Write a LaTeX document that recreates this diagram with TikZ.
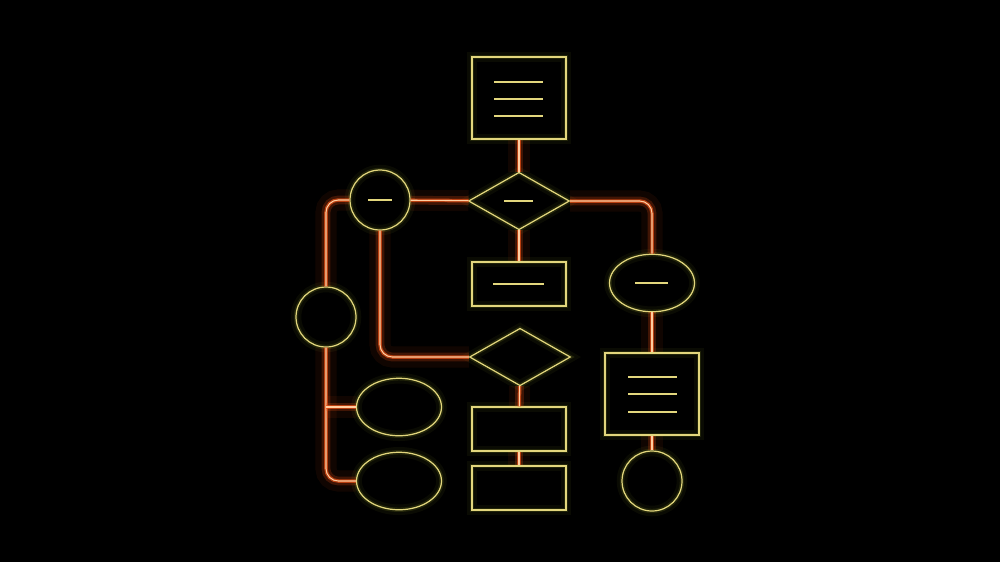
\documentclass[tikz,border=0pt]{standalone}
\usetikzlibrary{shapes.geometric}

\definecolor{shapecol}{RGB}{226,214,125}
\definecolor{shapeglow}{RGB}{140,150,40}
\definecolor{wirecol}{RGB}{255,205,160}
\definecolor{wireglow}{RGB}{235,80,20}

\begin{document}
\begin{tikzpicture}
		[x=0.02cm,y=-0.02cm,
		glow/.style={preaction={draw=shapeglow,line width=6pt,opacity=.08},
			preaction={draw=shapeglow,line width=2.5pt,opacity=.18}},
		box node/.style={draw=shapecol,line width=.7pt,glow,rectangle,inner sep=0pt,minimum width=1.88cm},
		dia node/.style={draw=shapecol,line width=.7pt,glow,diamond,inner sep=0pt,minimum width=2.02cm,minimum height=1.15cm,aspect=1.75},
		ell node/.style={draw=shapecol,line width=.7pt,glow,ellipse,inner sep=0pt,minimum width=1.7cm,minimum height=1.15cm},
		circ node/.style={draw=shapecol,line width=.7pt,glow,circle,inner sep=0pt,minimum size=1.2cm},
		bar/.style={draw=shapecol,line width=.7pt},
		wire/.style={draw=wirecol,line width=.6pt,rounded corners=7pt,
			preaction={draw=wireglow,line width=12pt,opacity=.07},
			preaction={draw=wireglow,line width=5pt,opacity=.22},
			preaction={draw=wireglow,line width=2pt,opacity=.7}}]
		
		\fill[black] (0,0) rectangle (1000,562);
		
		% shapes
		\node[box node,minimum height=1.64cm] (top) at (519,98) {};
		\node[dia node] (d1) at (519,201) {};
		\node[circ node] (c1) at (380,200) {};
		\node[box node,minimum height=.88cm] (r2) at (519,284) {};
		\node[ell node] (er) at (652,283) {};
		\node[circ node] (c2) at (326,317) {};
		\node[dia node] (d2) at (520,357) {};
		\node[box node,minimum height=1.64cm] (rr) at (652,394) {};
		\node[ell node] (e1) at (399,407) {};
		\node[box node,minimum height=.88cm] (r3) at (519,429) {};
		\node[ell node] (e2) at (399,481) {};
		\node[box node,minimum height=.88cm] (r4) at (519,488) {};
		\node[circ node] (cr) at (652,481) {};
		
		% text bars
		\foreach \y in {82,99,116}
			\draw[bar] (494,\y) -- (543,\y);
		\foreach \y in {377,394,412}
			\draw[bar] (628,\y) -- (677,\y);
		\draw[bar] (504,201) -- (533,201);
		\draw[bar] (368,200) -- (392,200);
		\draw[bar] (493,284) -- (544,284);
		\draw[bar] (635,283) -- (668,283);
		
		% connectors
		\draw[wire] (top) -- (d1);
		\draw[wire] (c1) -- (d1);
		\draw[wire] (d1.east) -| (er.north);
		\draw[wire] (c1.west) -| (c2.north);
		\draw[wire] (c1.south) |- (d2.west);
		\draw[wire] (d1) -- (r2);
		\draw[wire] (d2) -- (r3);
		\draw[wire] (r3) -- (r4);
		\draw[wire] (er) -- (rr);
		\draw[wire] (rr) -- (cr);
		\draw[wire] (c2.south) |- (e2.west);
		\draw[wire] (c2.south |- e1.west) -- (e1.west);
		\end{tikzpicture}
\end{document}
